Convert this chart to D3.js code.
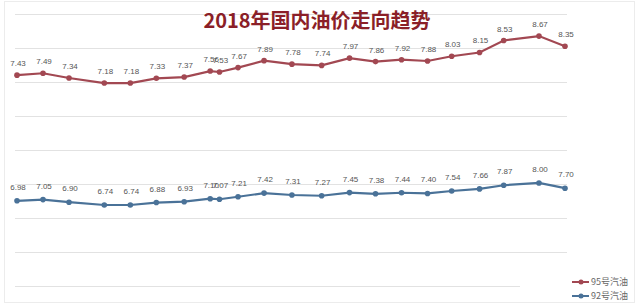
<!DOCTYPE html>
<html>
<head>
<meta charset="utf-8">
<script src="https://cdn.jsdelivr.net/npm/d3@7"></script>
<style>
  body { margin: 0; background: #fff; }
  svg { display: block; }
</style>
</head>
<body>
<svg id="chart" width="638" height="304"></svg>
<script>
const title = "2018年国内油价走向趋势";

// price adjustment dates
const dates = [
  "2018-01-12", "2018-01-26", "2018-02-09", "2018-02-28", "2018-03-14",
  "2018-03-28", "2018-04-12", "2018-04-26", "2018-05-01", "2018-05-11",
  "2018-05-25", "2018-06-09", "2018-06-25", "2018-07-10", "2018-07-24",
  "2018-08-07", "2018-08-21", "2018-09-03", "2018-09-18", "2018-10-01",
  "2018-10-20", "2018-11-03",
];

const gas95 = [
  7.43, 7.49, 7.34, 7.18, 7.18, 7.33, 7.37, 7.56, 7.53, 7.67, 7.89,
  7.78, 7.74, 7.97, 7.86, 7.92, 7.88, 8.03, 8.15, 8.53, 8.67, 8.35,
];

const gas92 = [
  6.98, 7.05, 6.90, 6.74, 6.74, 6.88, 6.93, 7.10, 7.07, 7.21, 7.42,
  7.31, 7.27, 7.45, 7.38, 7.44, 7.40, 7.54, 7.66, 7.87, 8.00, 7.70,
];

const seriesNames = ["95号汽油", "92号汽油"];
const seriesColors = ["#a24852", "#4a7298"];

const parse = d3.timeParse("%Y-%m-%d");
const svg = d3.select("#chart");

// frame
svg.append("rect")
  .attr("x", 4.5).attr("y", 1.5)
  .attr("width", 630).attr("height", 301)
  .attr("fill", "none")
  .attr("stroke", "#ececec");

const x = d3.scaleTime()
  .domain([parse(dates[0]), parse(dates[dates.length - 1])])
  .range([17, 565]);

// each series sits in its own band of the chart
const y95 = d3.scaleLinear().domain([7, 9]).range([88.7, 25.7]);
const y92 = d3.scaleLinear().domain([6.5, 8.5]).range([209.2, 174.2]);

// gridlines
const yGrid = d3.scaleLinear().domain([0, 8]).range([286, 14]);
const grid = svg.append("g")
  .attr("class", "grid")
  .attr("transform", "translate(15,0)")
  .call(d3.axisLeft(yGrid).ticks(8).tickFormat("").tickSize(-552));
grid.select(".domain").remove();
grid.selectAll("line").attr("stroke", "#e2e2e2");

const series = [
  { name: seriesNames[0], values: gas95, y: y95, color: seriesColors[0], dy: -9 },
  { name: seriesNames[1], values: gas92, y: y92, color: seriesColors[1], dy: -11 },
];

series.forEach((s) => {
  const pts = s.values.map((v, i) => ({ date: parse(dates[i]), value: v }));

  const line = d3.line()
    .x((d) => x(d.date))
    .y((d) => s.y(d.value));

  svg.append("path")
    .datum(pts)
    .attr("fill", "none")
    .attr("stroke", s.color)
    .attr("stroke-width", 2.2)
    .attr("d", line);

  svg.append("g")
    .selectAll("circle")
    .data(pts)
    .join("circle")
    .attr("cx", (d) => x(d.date))
    .attr("cy", (d) => s.y(d.value))
    .attr("r", 2.8)
    .attr("fill", s.color);

  svg.append("g")
    .selectAll("text")
    .data(pts)
    .join("text")
    .attr("x", (d) => x(d.date) + 1)
    .attr("y", (d) => s.y(d.value) + s.dy)
    .attr("text-anchor", "middle")
    .attr("font-family", "Liberation Sans, Arial, sans-serif")
    .attr("font-size", 8)
    .attr("fill", "#555")
    .text((d) => d3.format(".2f")(d.value));
});

// title
svg.append("text")
  .attr("x", 317)
  .attr("y", 28)
  .attr("text-anchor", "middle")
  .attr("font-family", "Noto Sans CJK SC, sans-serif")
  .attr("font-weight", "bold")
  .attr("font-size", 20)
  .attr("fill", "#8b1f28")
  .text(title);

// legend
const legend = svg.append("g").attr("class", "legend");
legend.append("rect")
  .attr("x", 520).attr("y", 272)
  .attr("width", 113).attr("height", 30)
  .attr("fill", "#fff");

const item = legend.selectAll("g.item")
  .data(series)
  .join("g")
  .attr("class", "item")
  .attr("transform", (d, i) => `translate(572,${282 + i * 14})`);

item.append("line")
  .attr("x1", 0).attr("x2", 17)
  .attr("stroke", (d) => d.color)
  .attr("stroke-width", 2);

item.append("circle")
  .attr("cx", 9).attr("r", 2.5)
  .attr("fill", (d) => d.color);

item.append("text")
  .attr("x", 19)
  .attr("dy", "0.35em")
  .attr("font-family", "Noto Sans CJK SC, sans-serif")
  .attr("font-size", 9)
  .attr("fill", "#666")
  .text((d) => d.name);
</script>
</body>
</html>
